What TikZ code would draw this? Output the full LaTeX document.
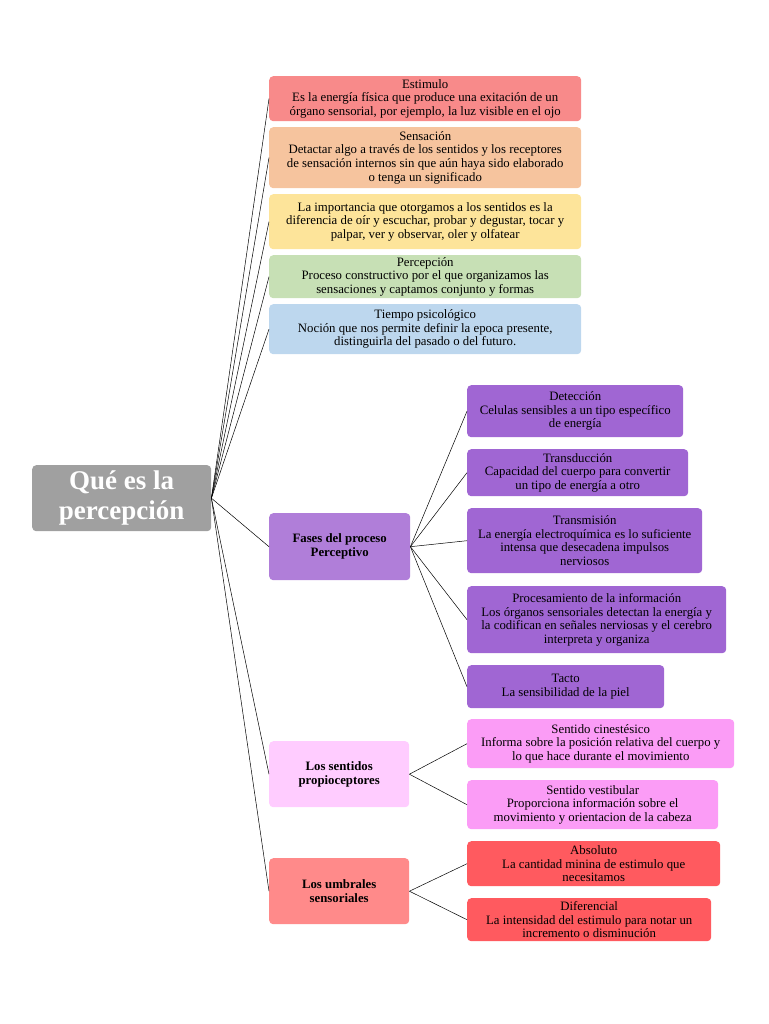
\documentclass[tikz,border=0pt]{standalone}
\usepackage{fontspec}
\setmainfont{Liberation Serif}
\begin{document}
\begin{tikzpicture}[x=1pt,y=-1pt,
 box/.style={rounded corners=4pt,inner sep=2pt,align=center,font=\fontsize{12.8}{13.6}\selectfont,anchor=north west},
 conn/.style={draw=black,line width=0.5pt}]
\useasboundingbox (0,0) rectangle (768,1024);
\definecolor{cStim}{HTML}{F88A8A}\definecolor{cSens}{HTML}{F6C49E}
\definecolor{cImp}{HTML}{FDE49A}\definecolor{cPer}{HTML}{C7E0B5}
\definecolor{cTie}{HTML}{BDD7EE}\definecolor{cFas}{HTML}{B07ED9}
\definecolor{cFch}{HTML}{A066D3}\definecolor{cPro}{HTML}{FFCCFF}
\definecolor{cPch}{HTML}{FB9CF6}\definecolor{cUmb}{HTML}{FF8A8A}
\definecolor{cUch}{HTML}{FF5A5F}\definecolor{cRoot}{HTML}{A0A0A0}
\newcommand{\bx}[7]{\node[box,fill=#6,minimum width=#4-#2,minimum height=#5-#3] (#1) at (#2,#3) {#7};}
\node[rounded corners=4pt,fill=cRoot,minimum width=179,minimum height=66,anchor=north west,align=center,text=white,font=\bfseries\fontsize{27}{30}\selectfont] (root) at (32,465) {Qué es la\\percepción};
\bx{stim}{269}{76}{581}{121}{cStim}{Estimulo\\Es la energía física que produce una exitación de un\\órgano sensorial, por ejemplo, la luz visible en el ojo}
\bx{sens}{269}{127}{581}{188}{cSens}{Sensación\\Detactar algo a través de los sentidos y los receptores\\de sensación internos sin que aún haya sido elaborado\\o tenga un significado}
\bx{imp}{269}{194}{581}{249}{cImp}{La importancia que otorgamos a los sentidos es la\\diferencia de oír y escuchar, probar y degustar, tocar y\\palpar, ver y observar, oler y olfatear}
\bx{perc}{269}{255}{581}{298}{cPer}{Percepción\\Proceso constructivo por el que organizamos las\\sensaciones y captamos conjunto y formas}
\bx{tiem}{269}{304}{581}{354}{cTie}{Tiempo psicológico\\Noción que nos permite definir la epoca presente,\\distinguirla del pasado o del futuro.}
\bx{fas}{269}{513}{410}{580}{cFas}{\bfseries Fases del proceso\\\bfseries Perceptivo}
\bx{det}{467}{385}{683}{437}{cFch}{Detección\\Celulas sensibles a un tipo específico\\de energía}
\bx{tdu}{467}{449}{688}{496}{cFch}{Transducción\\Capacidad del cuerpo para convertir\\un tipo de energía a otro}
\bx{tmi}{467}{508}{702}{573}{cFch}{Transmisión\\La energía electroquímica es lo suficiente\\intensa que desecadena impulsos\\nerviosos}
\bx{proc}{467}{586}{726}{653}{cFch}{Procesamiento de la información\\Los órganos sensoriales detectan la energía y\\la codifican en señales nerviosas y el cerebro\\interpreta y organiza}
\bx{tac}{467}{665}{664}{708}{cFch}{Tacto\\La sensibilidad de la piel}
\bx{prop}{269}{741}{409}{807}{cPro}{\bfseries Los sentidos\\\bfseries propioceptores}
\bx{cin}{467}{719}{734}{768}{cPch}{Sentido cinestésico\\Informa sobre la posición relativa del cuerpo y\\lo que hace durante el movimiento}
\bx{ves}{467}{780}{718}{829}{cPch}{Sentido vestibular\\Proporciona información sobre el\\movimiento y orientacion de la cabeza}
\bx{umb}{269}{858}{409}{924}{cUmb}{\bfseries Los umbrales\\\bfseries sensoriales}
\bx{abs}{467}{841}{720}{886}{cUch}{Absoluto\\La cantidad minina de estimulo que\\necesitamos}
\bx{dif}{467}{898}{711}{941}{cUch}{Diferencial\\La intensidad del estimulo para notar un\\incremento o disminución}
\foreach \t in {stim,sens,imp,perc,tiem,fas,prop,umb}{\draw[conn] (root.east) -- (\t.west);}
\foreach \t in {det,tdu,tmi,proc,tac}{\draw[conn] (fas.east) -- (\t.west);}
\foreach \t in {cin,ves}{\draw[conn] (prop.east) -- (\t.west);}
\foreach \t in {abs,dif}{\draw[conn] (umb.east) -- (\t.west);}
\end{tikzpicture}
\end{document}
